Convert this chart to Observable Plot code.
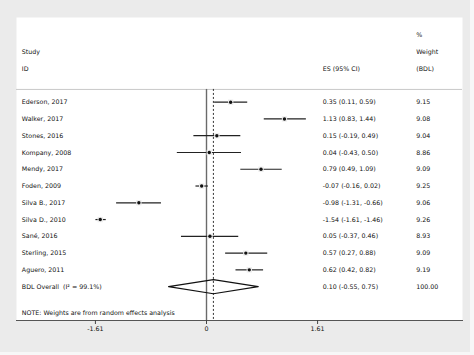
<!DOCTYPE html>
<html><head><meta charset="utf-8">
<script src="https://cdn.jsdelivr.net/npm/d3@7"></script>
<script src="https://cdn.jsdelivr.net/npm/@observablehq/plot@0.6"></script>
<style>
html,body{margin:0;padding:0;background:#f7f7f7;}
#chart{width:474px;height:355px;}
svg{display:block;}
</style></head>
<body><div id="chart"></div>
<script>
const studies = ["Ederson, 2017","Walker, 2017","Stones, 2016","Kompany, 2008","Mendy, 2017","Foden, 2009","Silva B., 2017","Silva D., 2010","Sané, 2016","Sterling, 2015","Aguero, 2011"];
const es = [0.35, 1.13, 0.15, 0.04, 0.79, -0.07, -0.98, -1.54, 0.05, 0.57, 0.62];
const lo = [0.11, 0.83, -0.19, -0.43, 0.49, -0.16, -1.31, -1.61, -0.37, 0.27, 0.42];
const hi = [0.59, 1.44, 0.49, 0.50, 1.09, 0.02, -0.66, -1.46, 0.46, 0.88, 0.82];
const weights = ["9.15","9.08","9.04","8.86","9.09","9.25","9.06","9.26","8.93","9.09","9.19"];
const overallLabel = "BDL Overall  (I\u00B2 = 99.1%)";
const overallES = 0.10, overallLo = -0.55, overallHi = 0.75, overallWeight = "100.00";
const tickValues = [-1.61, 0, 1.61];
const tickLabels = ["-1.61", "0", "1.61"];
const note = "NOTE: Weights are from random effects analysis";

// layout constants (not data)
const colStudy = -2.676, colES = 1.686, colW = 3.04;
const sepRow = -0.76;
const fmt = v => v.toFixed(2);

const rows = studies.map((s, i) => ({study: s, es: es[i], lo: lo[i], hi: hi[i], w: weights[i], row: i,
  ci: `${fmt(es[i])} (${fmt(lo[i])}, ${fmt(hi[i])})`}));
const oRow = studies.length;
const diamond = [
  {x: overallLo, y: oRow}, {x: overallES, y: oRow - 0.42}, {x: overallHi, y: oRow},
  {x: overallES, y: oRow + 0.42}, {x: overallLo, y: oRow}
];
const headers = [
  {x: colStudy, y: -3, t: "Study"}, {x: colStudy, y: -2, t: "ID"},
  {x: colES, y: -2, t: "ES (95% CI)"},
  {x: colW, y: -4, t: "%"}, {x: colW, y: -3, t: "Weight"}, {x: colW, y: -2, t: "(BDL)"}
];
const fs = 6.3;
const ff = "DejaVu Sans";

const chart = Plot.plot({
  width: 470, height: 352,
  marginLeft: 16, marginRight: 8, marginTop: 17, marginBottom: 32,
  style: {background: "#ebebeb", fontFamily: ff, fontSize: fs + "px", color: "#111"},
  x: {domain: [-2.7536, 3.7101], axis: null},
  y: {domain: [-5.05, 13.02], reverse: true, axis: null},
  marks: [
    Plot.frame({fill: "white", stroke: null}),
    Plot.ruleY([sepRow], {stroke: "#c8c8c8", strokeWidth: 1}),
    Plot.ruleX([0], {y1: sepRow, y2: 13.02, stroke: "#6a6a6a", strokeWidth: 1.4}),
    Plot.ruleX([overallES], {y1: sepRow, y2: 13.02, stroke: "#333", strokeWidth: 1, strokeDasharray: "2,2"}),
    Plot.link(rows, {x1: "lo", x2: "hi", y1: "row", y2: "row", stroke: "#222", strokeWidth: 1.2}),
    Plot.dot(rows, {x: "es", y: "row", symbol: "square", r: 3, fill: "#ececec", stroke: null}),
    Plot.dot(rows, {x: "es", y: "row", symbol: "circle", r: 1.7, fill: "#111", stroke: null}),
    Plot.line(diamond, {x: "x", y: "y", stroke: "#111", strokeWidth: 1.1}),
    Plot.text(rows, {x: colStudy, y: "row", text: "study", textAnchor: "start", fontSize: fs}),
    Plot.text(rows, {x: colES, y: "row", text: "ci", textAnchor: "start", fontSize: fs}),
    Plot.text(rows, {x: colW, y: "row", text: "w", textAnchor: "start", fontSize: fs}),
    Plot.text([overallLabel], {x: colStudy, y: oRow, text: d => d, textAnchor: "start", fontSize: fs}),
    Plot.text([`${fmt(overallES)} (${fmt(overallLo)}, ${fmt(overallHi)})`], {x: colES, y: oRow, text: d => d, textAnchor: "start", fontSize: fs}),
    Plot.text([overallWeight], {x: colW, y: oRow, text: d => d, textAnchor: "start", fontSize: fs}),
    Plot.text([note], {x: colStudy, y: oRow + 1.55, text: d => d, textAnchor: "start", fontSize: fs}),
    Plot.text(headers, {x: "x", y: "y", text: "t", textAnchor: "start", fontSize: fs}),
    Plot.frame({anchor: "bottom", stroke: "#555", strokeWidth: 1}),
    Plot.axisX({ticks: tickValues, tickFormat: (d, i) => tickLabels[i], tickSize: 4, tickPadding: 2,
      fontSize: fs, stroke: "#444", color: "#111"})
  ]
});
document.getElementById("chart").appendChild(chart);
</script></body></html>
